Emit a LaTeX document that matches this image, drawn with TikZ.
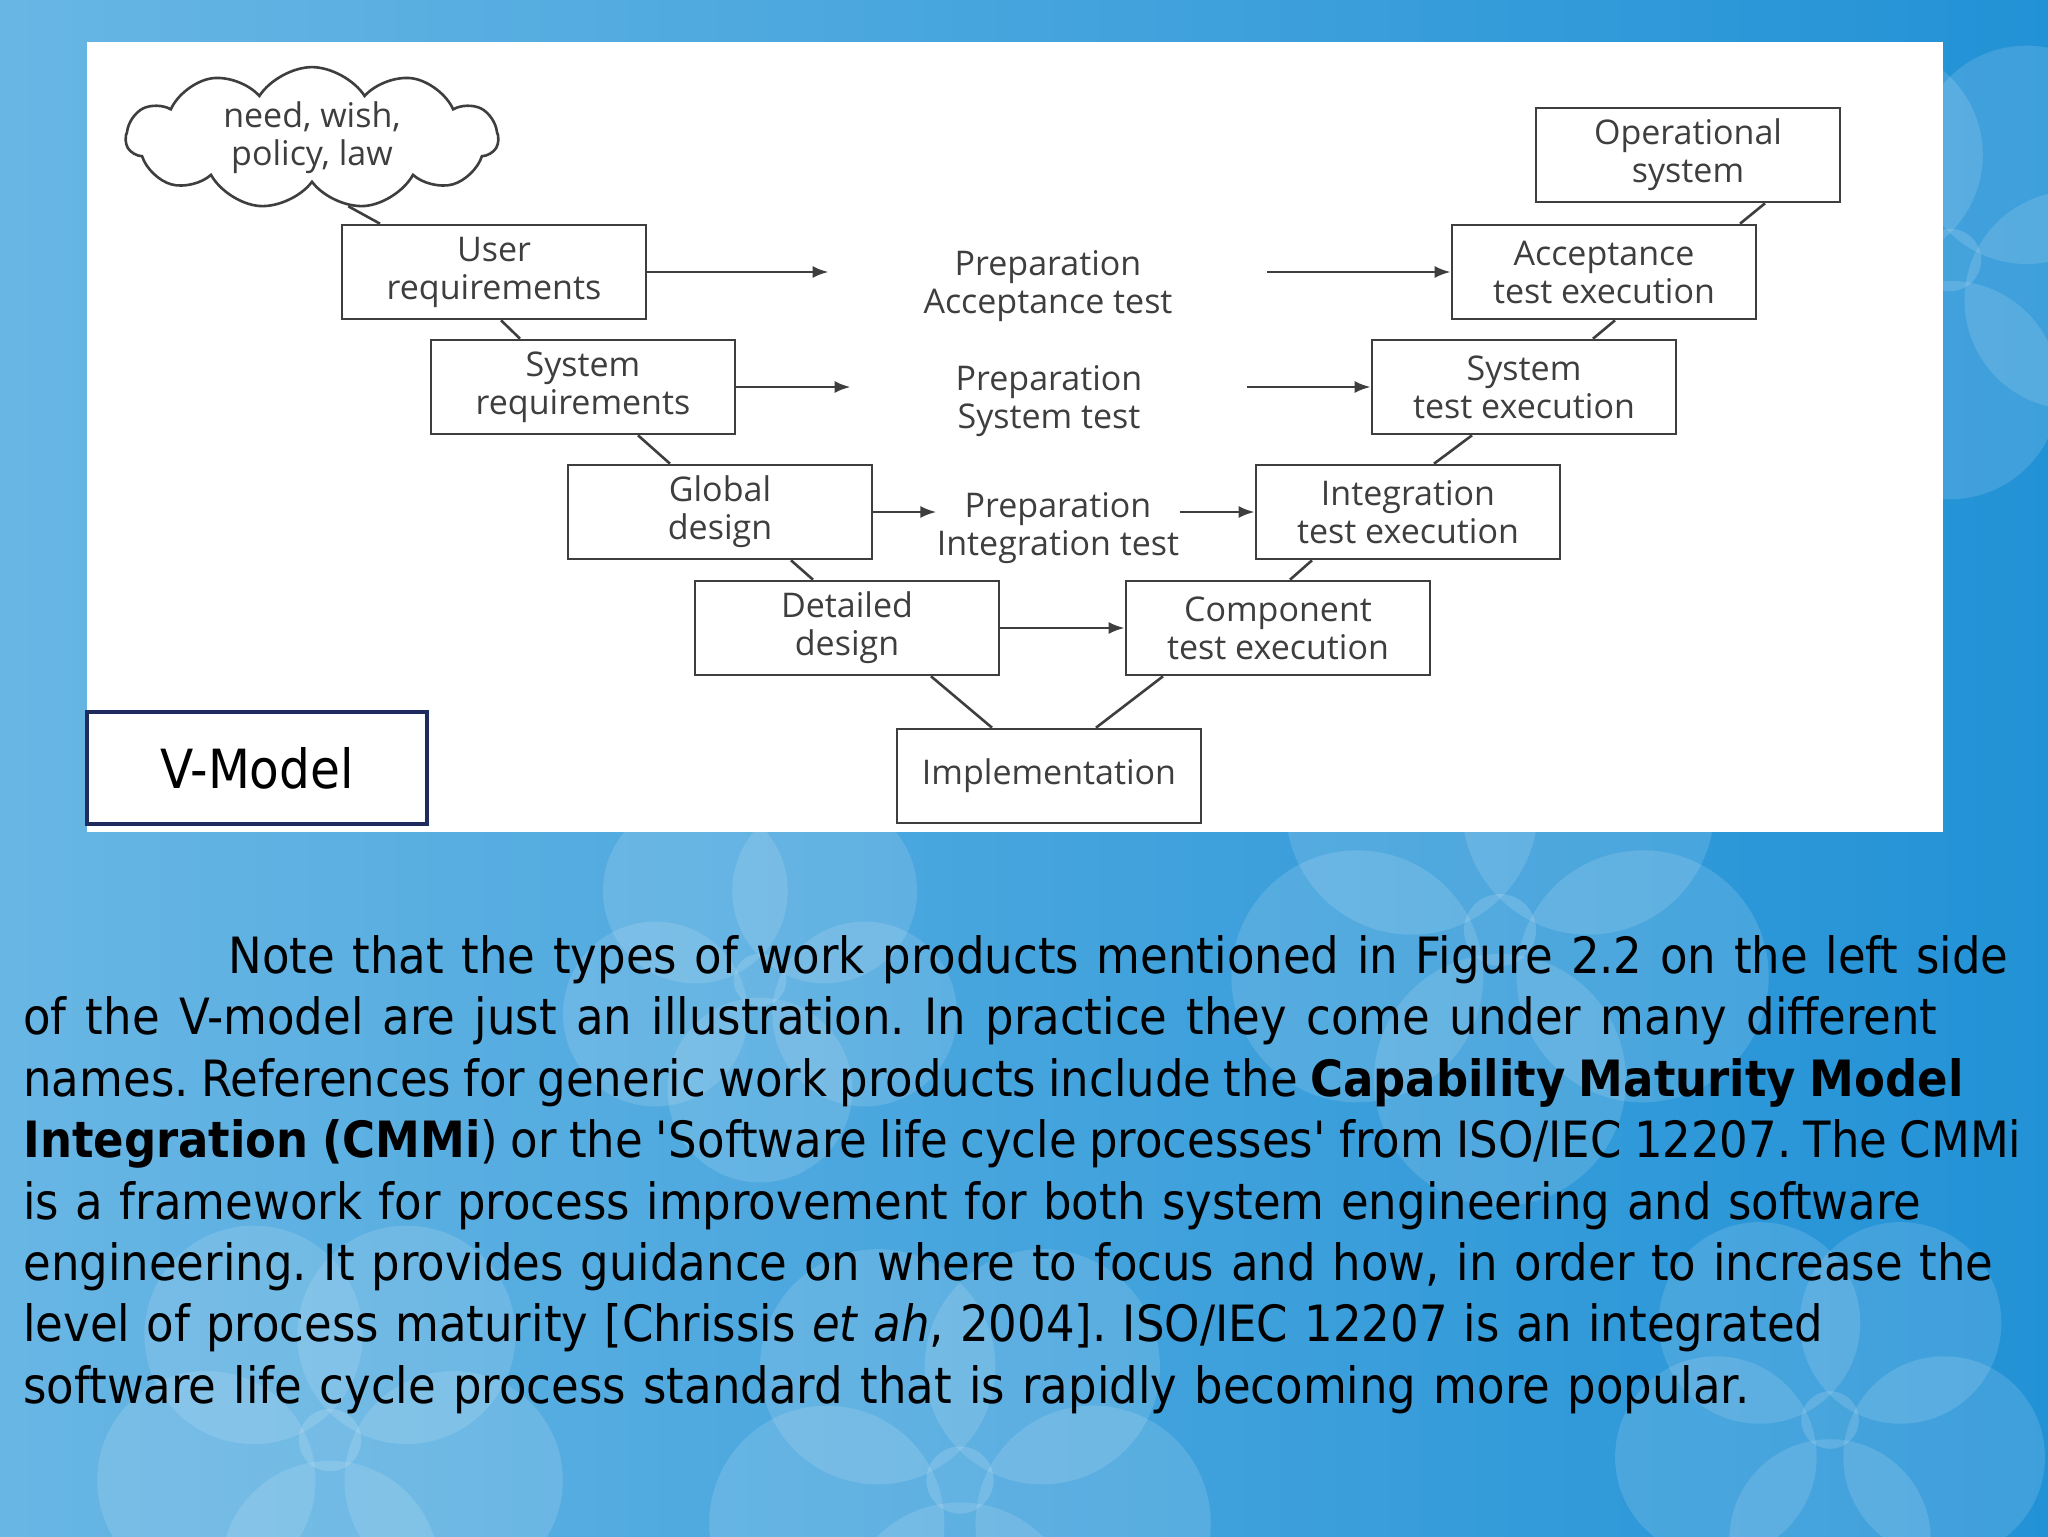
\documentclass[tikz,border=0pt]{standalone}
\usepackage{fontspec}
\setmainfont{DejaVu Sans}[FakeStretch=0.9]
\newfontfamily\diagfont{Open Sans}
\usepackage{tikz}
\usetikzlibrary{arrows.meta,calc,shapes.symbols}
\definecolor{vmsky}{RGB}{104,182,228}
\definecolor{vmdeep}{RGB}{34,146,214}
\definecolor{vmnavy}{RGB}{31,42,94}
\definecolor{vmink}{RGB}{62,62,62}
\tikzset{
  stage/.style={draw=vmink,line width=1.3pt,fill=white,minimum width=152pt,
    minimum height=47pt,align=center,text=vmink,
    font=\diagfont\fontsize{17}{19}\selectfont},
  prep/.style={align=center,text=vmink,inner xsep=0pt,
    font=\diagfont\fontsize{17}{19}\selectfont},
  link/.style={draw=vmink,line width=1.3pt},
  flow/.style={link,-{Latex[length=8pt,width=6pt]}}
}
\newcommand{\blossom}[3]{%
  \foreach \ang in {18,90,162,234,306}{
    \fill[white,opacity=.13] ($(#1,#2)+(\ang:{#3*0.5})$) circle[radius={#3*0.42}];}
  \fill[white,opacity=.15] (#1,#2) circle[radius={#3*0.12}];
}
\newcommand{\bodyline}[5]{%
  \node[anchor=base west,inner sep=0pt,font=\fontsize{25}{30}\selectfont]
    (#1) at (#2,#3) {\frenchspacing\makebox[#4][s]{#5}};
}

\begin{document}
\begin{tikzpicture}[x=.5pt,y=-.5pt]
  \useasboundingbox (0,0) rectangle (2048,1536);
  \shade[left color=vmsky,right color=vmdeep] (0,0) rectangle (2048,1536);
  \blossom{1950}{260}{260}
  \blossom{1500}{930}{300}
  \blossom{960}{1480}{280}
  \blossom{330}{1440}{260}
  \blossom{760}{980}{220}
  \blossom{1830}{1420}{240}
  \fill[white] (87,42) rectangle (1943,832);

  \node[cloud,cloud puffs=11,cloud puff arc=115,aspect=2.8,draw=vmink,
    line width=1.3pt,minimum width=186pt,minimum height=62pt,inner sep=0pt,
    align=center,text=vmink,font=\diagfont\fontsize{17}{19}\selectfont]
    (need) at (312,138) {need, wish,\\policy, law};

  \node[stage] (user) at (494,272) {User\\requirements};
  \node[stage] (sysreq) at (583,387) {System\\requirements};
  \node[stage] (gdesign) at (720,512) {Global\\design};
  \node[stage] (ddesign) at (847,628) {Detailed\\design};
  \node[stage] (impl) at (1049,776) {Implementation};
  \node[stage] (comptest) at (1278,628) {Component\\test execution};
  \node[stage] (integtest) at (1408,512) {Integration\\test execution};
  \node[stage] (systest) at (1524,387) {System\\test execution};
  \node[stage] (acctest) at (1604,272) {Acceptance\\test execution};
  \node[stage] (opsys) at (1688,155) {Operational\\system};

  \node[prep,minimum width=219pt] (prepacc) at (1048,286) {Preparation\\Acceptance test};
  \node[prep,minimum width=198pt] (prepsys) at (1049,401) {Preparation\\System test};
  \node[prep,minimum width=121pt] (prepint) at (1058,528) {Preparation\\Integration test};

  \draw[link] (need.-62) -- ($(user.north)+(-114,0)$);
  \draw[link] ($(user.south)+(7,0)$) -- ($(sysreq.north)+(-63,0)$);
  \draw[link] ($(sysreq.south)+(55,0)$) -- ($(gdesign.north)+(-50,0)$);
  \draw[link] ($(gdesign.south)+(71,0)$) -- ($(ddesign.north)+(-34,0)$);
  \draw[link] ($(ddesign.south)+(84,0)$) -- ($(impl.north)+(-57,0)$);
  \draw[link] ($(impl.north)+(47,0)$) -- ($(comptest.south)+(-115,0)$);
  \draw[link] ($(comptest.north)+(12,0)$) -- ($(integtest.south)+(-96,0)$);
  \draw[link] ($(integtest.north)+(26,0)$) -- ($(systest.south)+(-52,0)$);
  \draw[link] ($(systest.north)+(69,0)$) -- ($(acctest.south)+(11,0)$);
  \draw[link] ($(acctest.north)+(136,0)$) -- ($(opsys.south)+(77,0)$);

  \draw[flow] (user.east) -- (user.east -| prepacc.west);
  \draw[flow] (prepacc.east |- acctest.west) -- (acctest.west);
  \draw[flow] (sysreq.east) -- (sysreq.east -| prepsys.west);
  \draw[flow] (prepsys.east |- systest.west) -- (systest.west);
  \draw[flow] (gdesign.east) -- (gdesign.east -| prepint.west);
  \draw[flow] (prepint.east |- integtest.west) -- (integtest.west);
  \draw[flow] (ddesign.east) -- (comptest.west);

  \node[draw=vmnavy,line width=1.6pt,fill=white,minimum width=170pt,
    minimum height=56pt,font=\fontsize{27}{32}\selectfont] (vmodel) at (257,768) {V-Model};

  \bodyline{l1}{228}{973}{890pt}{Note that the types of work products mentioned in Figure 2.2 on the left side}
  \bodyline{l2}{23}{1034}{957pt}{of the V-model are just an illustration. In practice they come under many different}
  \bodyline{l3}{23}{1096}{970pt}{names. References for generic work products include the \textbf{Capability Maturity Model}}
  \bodyline{l4}{23}{1157}{999pt}{\textbf{Integration (CMMi}) or the \textquotesingle Software life cycle processes\textquotesingle{} from ISO/IEC 12207. The CMMi}
  \bodyline{l5}{23}{1219}{949pt}{is a framework for process improvement for both system engineering and software}
  \bodyline{l6}{23}{1280}{985pt}{engineering. It provides guidance on where to focus and how, in order to increase the}
  \bodyline{l7}{23}{1341}{900pt}{level of process maturity [Chrissis \textit{et ah}, 2004]. ISO/IEC 12207 is an integrated}
  \bodyline{l8}{23}{1403}{863pt}{software life cycle process standard that is rapidly becoming more popular.}
\end{tikzpicture}
\end{document}
